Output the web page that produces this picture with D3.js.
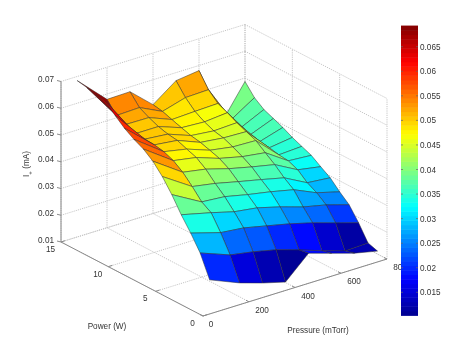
<!DOCTYPE html>
<html>
<head>
<meta charset="utf-8">
<script src="https://cdn.jsdelivr.net/npm/d3@7"></script>
<style>
    html, body { margin: 0; padding: 0; background: #fff; }
    svg { display: block; filter: blur(0.45px); }
    text { font-family: "Liberation Sans", sans-serif; font-size: 8.2px; fill: #333; }
</style>
</head>
<body>
<div id="chart"></div>
<script>
const pressureVals = [70, 200, 300, 400, 500, 600, 700, 800];
const powerVals = [1, 2, 3, 4, 5, 6, 7, 8, 9, 10, 11, 12, 13, 14, 15];
// one row per power, one column per pressure
const current = [
    [0.0198, 0.0152, 0.0125, 0.0102, 0.0183, 0.0156, 0.013, 0.0111],
    [0.028, 0.0238, 0.0223, 0.0204, 0.0177, 0.0147, 0.012, 0.0123],
    [0.0336, 0.0303, 0.0294, 0.0275, 0.0256, 0.0233, 0.0206, 0.018],
    [0.0386, 0.0359, 0.0336, 0.0324, 0.0301, 0.0274, 0.0255, 0.0229],
    [0.0443, 0.0381, 0.0374, 0.0355, 0.0339, 0.032, 0.0282, 0.0259],
    [0.0492, 0.042, 0.0405, 0.0385, 0.0366, 0.0346, 0.0301, 0.0293],
    [0.0531, 0.0455, 0.044, 0.0415, 0.0395, 0.0377, 0.0331, 0.0316],
    [0.0558, 0.048, 0.0465, 0.0435, 0.0415, 0.0403, 0.0346, 0.034],
    [0.0576, 0.0495, 0.0478, 0.0447, 0.0433, 0.043, 0.035, 0.0355],
    [0.0599, 0.0502, 0.0492, 0.0458, 0.0448, 0.0445, 0.0358, 0.037],
    [0.0629, 0.0505, 0.0497, 0.0465, 0.0456, 0.046, 0.0363, 0.0389],
    [0.0663, 0.0507, 0.0507, 0.0476, 0.0471, 0.0479, 0.037, 0.0404],
    [0.067, 0.0523, 0.0522, 0.0488, 0.0492, 0.0495, 0.0378, 0.0419],
    [0.0678, 0.0538, 0.0541, 0.05, 0.0525, 0.0528, 0.039, 0.0445],
    [0.0685, 0.058, 0.0582, 0.0507, 0.057, 0.0581, 0.0363, 0.0487],
];
const pressureTicks = [0, 200, 400, 600, 800];
const powerTicks = [0, 5, 10, 15];
const currentTicks = [0.01, 0.02, 0.03, 0.04, 0.05, 0.06, 0.07];
const barTicks = [0.015, 0.02, 0.025, 0.03, 0.035, 0.04, 0.045, 0.05, 0.055, 0.06, 0.065];
const colorLimits = [0.0103, 0.0693];

const width = 474,
    height = 355;

const svg = d3
    .select("#chart")
    .append("svg")
    .attr("width", width)
    .attr("height", height)
    .attr("viewBox", [0, 0, width, height]);

// the view is orthographic so each data axis is just a linear screen offset
const origin = { x: 203, y: 316 };
const pX = d3.scaleLinear().domain([0, 800]).range([0, 184]);
const pY = d3.scaleLinear().domain([0, 800]).range([0, -57]);
const wX = d3.scaleLinear().domain([0, 15]).range([0, -142]);
const wY = d3.scaleLinear().domain([0, 15]).range([0, -74]);
const zY = d3.scaleLinear().domain([0.01, 0.07]).range([0, -160.5]);

function project(p, w, z) {
    return [origin.x + pX(p) + wX(w), origin.y + pY(p) + wY(w) + zY(z)];
}

// matlab style jet colormap, 64 flat steps
const jetRamp = d3
    .scaleLinear()
    .domain([0, 0.125, 0.375, 0.625, 0.875, 1])
    .range(["#00008f", "#0000ff", "#00ffff", "#ffff00", "#ff0000", "#800000"]);
const jetSteps = d3.range(64).map((i) => jetRamp((i + 0.5) / 64));
const color = d3
    .scaleQuantize()
    .domain(colorLimits)
    .range(jetSteps);

// walls and floor grid
const zMin = currentTicks[0],
    zMax = currentTicks[currentTicks.length - 1],
    pMax = 800,
    wMax = 15;
const gridLines = [];
pressureTicks.forEach((p) => {
    gridLines.push([project(p, 0, zMin), project(p, wMax, zMin)]);
    gridLines.push([project(p, wMax, zMin), project(p, wMax, zMax)]);
});
powerTicks.forEach((w) => {
    gridLines.push([project(0, w, zMin), project(pMax, w, zMin)]);
    gridLines.push([project(pMax, w, zMin), project(pMax, w, zMax)]);
});
currentTicks.forEach((z) => {
    gridLines.push([project(0, wMax, z), project(pMax, wMax, z)]);
    gridLines.push([project(pMax, wMax, z), project(pMax, 0, z)]);
});

const line = d3.line();
svg.append("g")
    .selectAll("path")
    .data(gridLines)
    .join("path")
    .attr("d", line)
    .attr("fill", "none")
    .attr("stroke", "#c6c6c6")
    .attr("stroke-width", 1)
    .attr("stroke-dasharray", "1.2,1");

// solid axis lines
const axisLines = [
    [project(0, 0, zMin), project(0, wMax, zMin)],
    [project(0, 0, zMin), project(pMax, 0, zMin)],
    [project(0, wMax, zMin), project(0, wMax, zMax)],
];
svg.append("g")
    .selectAll("path")
    .data(axisLines)
    .join("path")
    .attr("d", line)
    .attr("fill", "none")
    .attr("stroke", "#8a8a8a")
    .attr("stroke-width", 1);

// tick marks
const tickMarks = [];
currentTicks.forEach((z) => {
    const a = project(0, wMax, z);
    tickMarks.push([a, [a[0] - 4, a[1] - 1]]);
});
pressureTicks.forEach((p) => {
    const a = project(p, 0, zMin);
    tickMarks.push([a, [a[0] - 3, a[1] - 1.5]]);
});
powerTicks.forEach((w) => {
    const a = project(0, w, zMin);
    tickMarks.push([a, [a[0] + 4, a[1] - 1.3]]);
});
svg.append("g")
    .selectAll("path")
    .data(tickMarks)
    .join("path")
    .attr("d", line)
    .attr("stroke", "#8a8a8a")
    .attr("stroke-width", 1);

// tick labels
svg.append("g")
    .selectAll("text")
    .data(currentTicks)
    .join("text")
    .attr("x", 54)
    .attr("y", (d) => project(0, wMax, d)[1] + 0.5)
    .attr("text-anchor", "end")
    .text((d) => d);

svg.append("g")
    .selectAll("text")
    .data(powerTicks)
    .join("text")
    .attr("x", (d) => project(0, d, zMin)[0] - 10.5)
    .attr("y", (d) => project(0, d, zMin)[1] + 10)
    .attr("text-anchor", "middle")
    .text((d) => d);

svg.append("g")
    .selectAll("text")
    .data(pressureTicks)
    .join("text")
    .attr("x", (d) => project(d, 0, zMin)[0] + (d === 0 ? 8 : 13))
    .attr("y", (d) => project(d, 0, zMin)[1] + 11)
    .attr("text-anchor", "middle")
    .text((d) => d);

// axis titles
const yTitle = svg
    .append("text")
    .attr("transform", "translate(29,164) rotate(-90)")
    .attr("text-anchor", "middle");
yTitle.append("tspan").text("I");
yTitle.append("tspan").attr("dy", 3).attr("font-size", "6px").text("+");
yTitle.append("tspan").attr("dy", -3).text(" (mA)");

svg.append("text")
    .attr("x", 107)
    .attr("y", 329)
    .attr("text-anchor", "middle")
    .text("Power (W)");

svg.append("text")
    .attr("x", 318)
    .attr("y", 333)
    .attr("text-anchor", "middle")
    .text("Pressure (mTorr)");

// surface cells, back to front so nearer cells cover farther ones
const cells = [];
for (let r = powerVals.length - 2; r >= 0; r--) {
    for (let c = pressureVals.length - 2; c >= 0; c--) {
        cells.push({ r, c, value: current[r][c] });
    }
}
const vertex = (r, c) => project(pressureVals[c], powerVals[r], current[r][c]);

svg.append("g")
    .selectAll("polygon")
    .data(cells)
    .join("polygon")
    .attr("points", (d) =>
        [
            vertex(d.r, d.c),
            vertex(d.r, d.c + 1),
            vertex(d.r + 1, d.c + 1),
            vertex(d.r + 1, d.c),
        ].join(" ")
    )
    .attr("fill", (d) => color(d.value))
    .attr("stroke", "#2e2e2e")
    .attr("stroke-width", 0.5)
    .attr("stroke-linejoin", "round");

// colorbar
const barY = d3.scaleLinear().domain([0.015, 0.065]).range([292.3, 46.7]);
const barX = 401,
    barW = 17;
const barSteps = d3
    .range(64)
    .map((i) => colorLimits[0] + ((colorLimits[1] - colorLimits[0]) * i) / 64);
const stepSize = (colorLimits[1] - colorLimits[0]) / 64;

const bar = svg.append("g");
bar.selectAll("rect")
    .data(barSteps)
    .join("rect")
    .attr("x", barX)
    .attr("width", barW)
    .attr("y", (d) => barY(d + stepSize))
    .attr("height", (d) => barY(d) - barY(d + stepSize) + 0.5)
    .attr("fill", (d) => color(d + stepSize / 2));

bar.selectAll("path")
    .data(barTicks)
    .join("path")
    .attr("d", (d) => `M${barX},${barY(d)}h2M${barX + barW},${barY(d)}h-2`)
    .attr("stroke", "#666")
    .attr("stroke-width", 0.7);

bar.selectAll("text")
    .data(barTicks)
    .join("text")
    .attr("x", barX + barW + 2)
    .attr("y", (d) => barY(d) + 3)
    .text((d) => d);
</script>
</body>
</html>
